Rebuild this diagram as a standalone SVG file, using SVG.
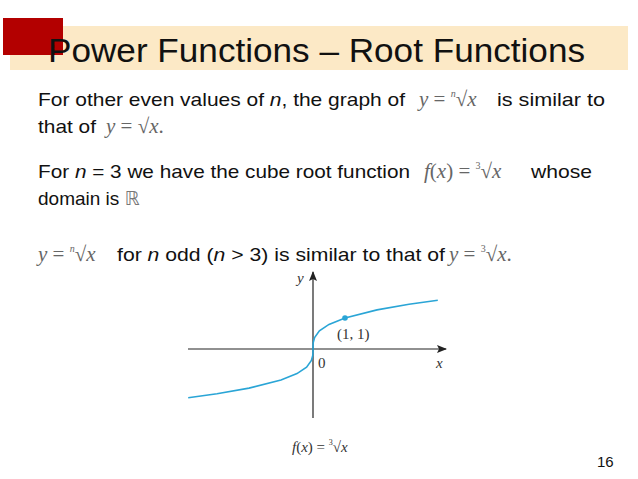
<svg xmlns="http://www.w3.org/2000/svg" width="638" height="479" viewBox="0 0 638 479">
<style>
.b{font-family:"Liberation Sans",Arial,sans-serif;font-size:19px;fill:#111}
.m{font-family:"Liberation Serif","Times New Roman",serif;font-size:21px;fill:#666}
.g{font-family:"Liberation Serif","Times New Roman",serif;font-size:15px;fill:#333}
</style>
<defs><marker id="ah" markerWidth="10" markerHeight="8" refX="9" refY="4" orient="auto" markerUnits="userSpaceOnUse"><path d="M0,0 L10,4 L0,8 L2,4 Z" fill="#222"/></marker></defs>
<rect x="0" y="0" width="638" height="479" fill="#fff"/>
<rect x="10" y="26" width="618" height="44" fill="#fce9c6"/>
<rect x="3" y="18" width="60" height="37" fill="#b30000"/>
<text x="48" y="62" font-family="Liberation Sans,Arial,sans-serif" font-size="34" fill="#111" textLength="537" lengthAdjust="spacingAndGlyphs">Power Functions – Root Functions</text>
<text class="b" x="38" y="106" textLength="367" lengthAdjust="spacingAndGlyphs">For other even values of <tspan font-style="italic">n</tspan>, the graph of</text>
<text class="m" x="419" y="106"><tspan font-style="italic">y</tspan> = <tspan font-size="10" dy="-9" font-style="italic">n</tspan><tspan dy="9">√</tspan><tspan font-style="italic">x</tspan></text>
<text class="b" x="497" y="106" textLength="108" lengthAdjust="spacingAndGlyphs">is similar to</text>
<text class="b" x="38" y="133" textLength="58" lengthAdjust="spacingAndGlyphs">that of</text>
<text class="m" x="106" y="133"><tspan font-style="italic">y</tspan> = √<tspan font-style="italic">x</tspan>.</text>
<text class="b" x="38" y="178" textLength="372" lengthAdjust="spacingAndGlyphs">For <tspan font-style="italic">n</tspan> = 3 we have the cube root function</text>
<text class="m" x="424" y="178"><tspan font-style="italic">f</tspan>(<tspan font-style="italic">x</tspan>) = <tspan font-size="10" dy="-9">3</tspan><tspan dy="9">√</tspan><tspan font-style="italic">x</tspan></text>
<text class="b" x="531" y="178" textLength="61" lengthAdjust="spacingAndGlyphs">whose</text>
<text class="b" x="38" y="205">domain is <tspan font-family="DejaVu Sans,sans-serif" fill="#777">ℝ</tspan></text>
<text class="m" x="38" y="261"><tspan font-style="italic">y</tspan> = <tspan font-size="10" dy="-9" font-style="italic">n</tspan><tspan dy="9">√</tspan><tspan font-style="italic">x</tspan></text>
<text class="b" x="117" y="261" textLength="328" lengthAdjust="spacingAndGlyphs">for <tspan font-style="italic">n</tspan> odd (<tspan font-style="italic">n</tspan> &gt; 3) is similar to that of</text>
<text class="m" x="449" y="261"><tspan font-style="italic">y</tspan> = <tspan font-size="10" dy="-9">3</tspan><tspan dy="9">√</tspan><tspan font-style="italic">x</tspan>.</text>
<g id="axes" stroke="#222" stroke-width="1.2" fill="none">
<line x1="188" y1="349" x2="446" y2="349" marker-end="url(#ah)"/>
<line x1="313" y1="418" x2="313" y2="272" marker-end="url(#ah)"/>
</g>
<g id="curve">
<polyline fill="none" stroke="#2aa5d6" stroke-width="1.6" points="188.2,397.8 217,393.7 249,388.1 281,380 297,373.6 306.6,367.1 311.4,360.4 312.7,355.7 313,352 313,349 313,346 313.3,342.3 314.6,337.6 319.4,330.9 329,324.4 345,318 377,309.9 409,304.3 437.8,300.2"/>
<circle cx="345" cy="318" r="2.8" fill="#2aa5d6"/>
</g>
<text class="g" x="297" y="283" font-style="italic">y</text>
<text class="g" x="337" y="339">(1, 1)</text>
<text class="g" x="318" y="368">0</text>
<text class="g" x="436" y="368" font-style="italic">x</text>
<text class="g" x="292" y="452" font-size="17"><tspan font-style="italic">f</tspan>(<tspan font-style="italic">x</tspan>) = <tspan font-size="8" dy="-7">3</tspan><tspan dy="7">√</tspan><tspan font-style="italic">x</tspan></text>
<text x="597" y="467" font-family="Liberation Sans,Arial,sans-serif" font-size="15" fill="#111">16</text>
</svg>
